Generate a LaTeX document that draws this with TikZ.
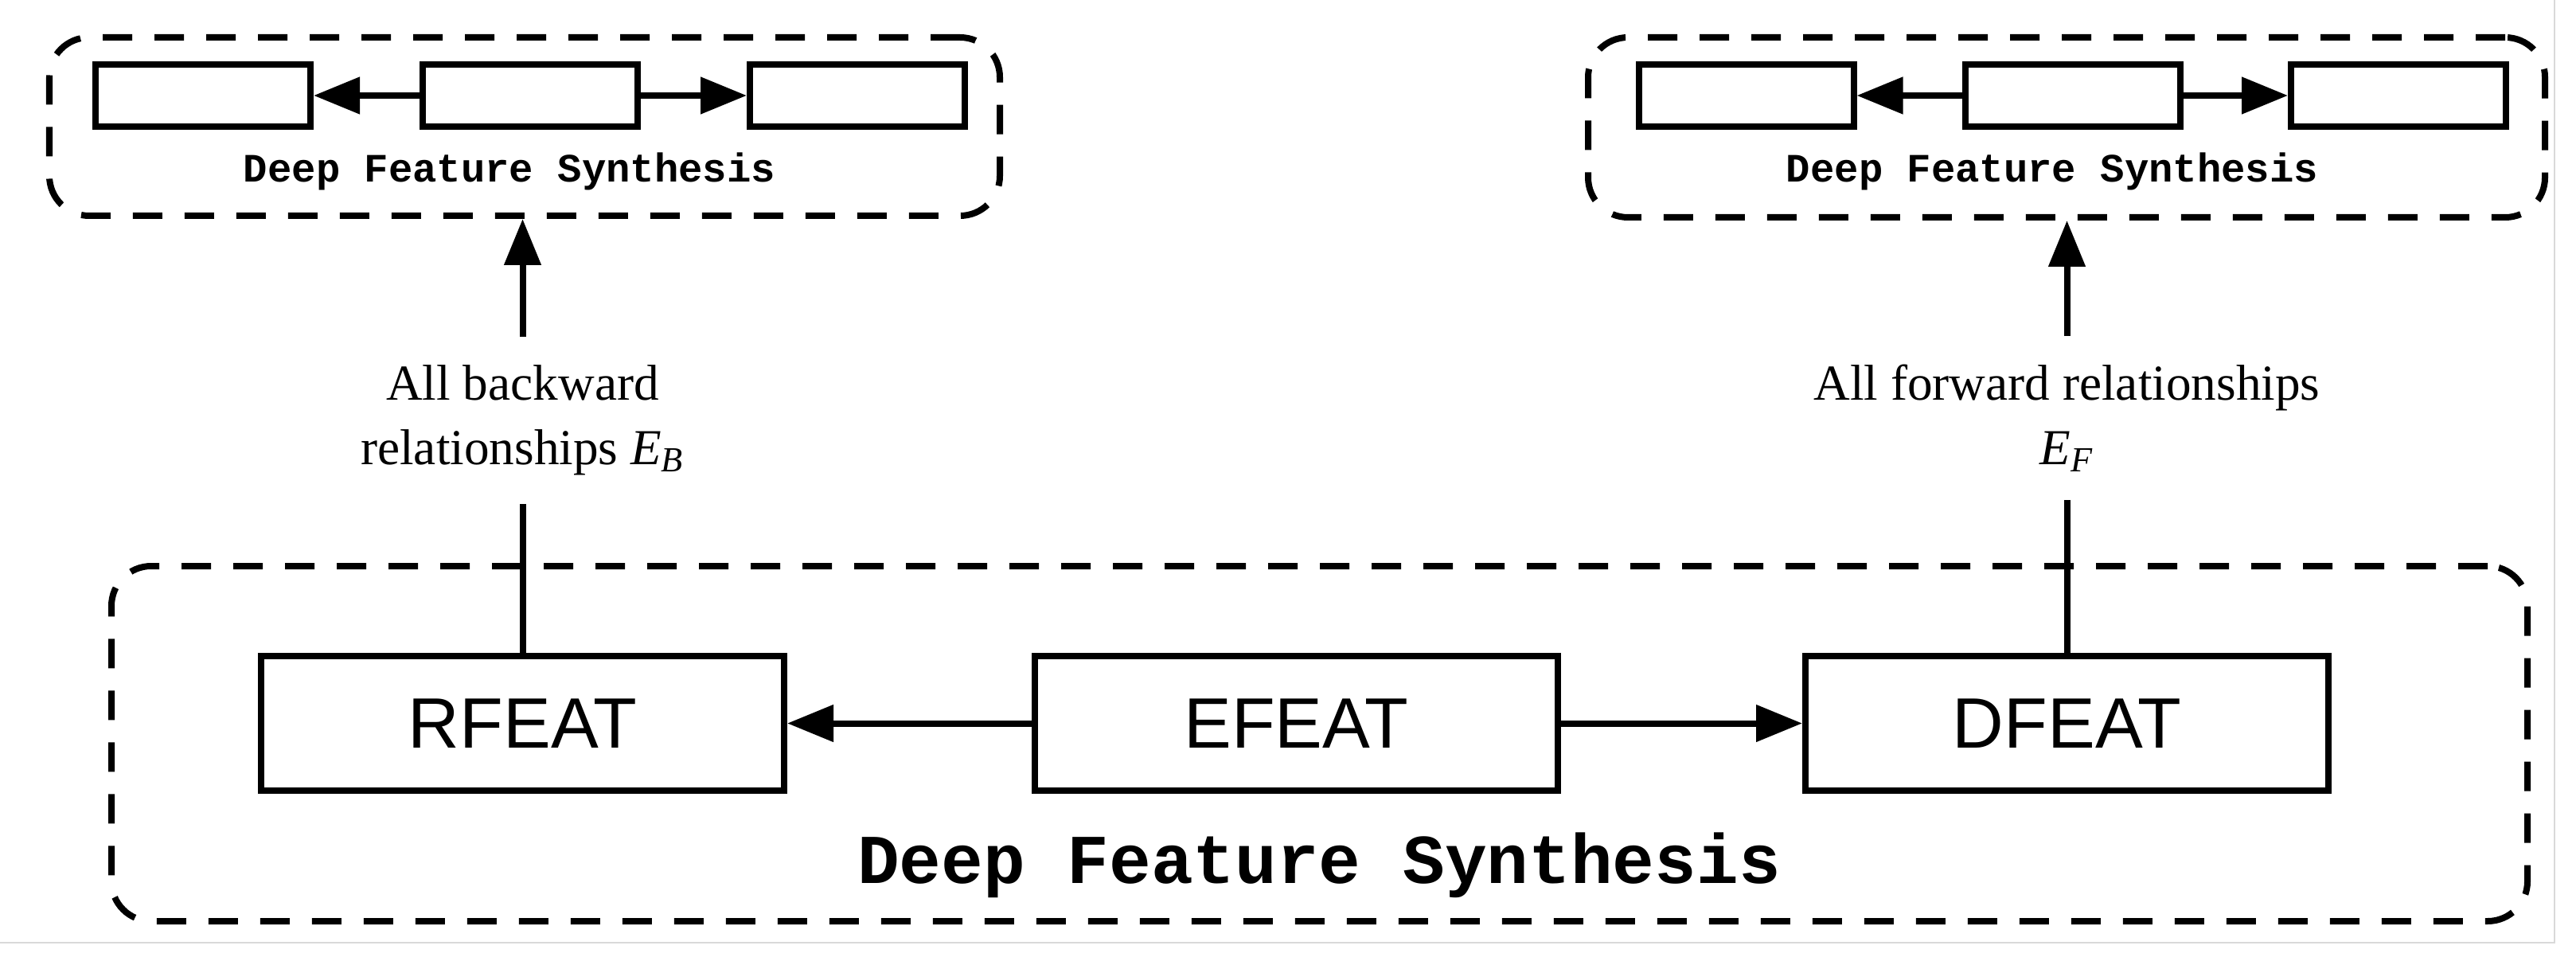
\documentclass[tikz,border=0pt]{standalone}
\usepackage{amsmath}
\usepackage{fontspec}
\setmainfont{Liberation Serif}
\setsansfont{Liberation Sans}
\setmonofont{Liberation Mono}
\usetikzlibrary{arrows.meta}

\tikzset{
  featbox/.style={draw, line width=0.08cm, minimum width=6.57cm, minimum height=1.69cm,
    font=\sffamily\fontsize{25.5}{30}\selectfont},
  minibox/.style={draw, line width=0.08cm, minimum width=2.70cm, minimum height=0.78cm},
  dfsbox/.style={draw, line width=0.08cm, dash pattern=on 0.37cm off 0.28cm, rounded corners=0.5cm},
  dfstitle/.style={anchor=base, font=\ttfamily\bfseries\fontsize{25}{30}\selectfont},
  minititle/.style={anchor=base, font=\ttfamily\bfseries\fontsize{14.4}{17}\selectfont},
  arr/.style={line width=0.08cm, -{Triangle[length=0.58cm,width=0.45cm]}},
  link/.style={line width=0.08cm},
  rel/.style={align=center, inner xsep=0pt, inner ysep=0.35cm, font=\fontsize{18}{23}\selectfont},
}

\begin{document}
\begin{tikzpicture}
    \useasboundingbox (0,0) rectangle (32.36,12.06);
    \draw[gray!30, line width=0.02cm] (0,0.22) -- (32.09,0.22) -- (32.09,12.06);

    % bottom: the three feature kinds
    \node[dfsbox, minimum width=30.35cm, minimum height=4.46cm] (dfs) at (16.575,2.72) {};
    \node[featbox] (rfeat) at (6.565,2.975) {RFEAT};
    \node[featbox] (efeat) at (16.285,2.975) {EFEAT};
    \node[featbox] (dfeat) at (25.965,2.975) {DFEAT};
    \node[dfstitle] (dfsname) at (16.57,0.97) {Deep Feature Synthesis};
    \draw[arr] (efeat) -- (rfeat);
    \draw[arr] (efeat) -- (dfeat);

    % top left, backward
    \node[dfsbox, minimum width=11.94cm, minimum height=2.24cm] (dfsB) at (6.59,10.47) {};
    \node[minibox] (b1) at (2.55,10.86) {};
    \node[minibox] (b2) at (6.655,10.86) {};
    \node[minibox] (b3) at (10.77,10.86) {};
    \draw[arr] (b2) -- (b1);
    \draw[arr] (b2) -- (b3);
    \node[minititle] (dfsBname) at (6.40,9.77) {Deep Feature Synthesis};

    % top right, forward
    \node[dfsbox, minimum width=12.02cm, minimum height=2.26cm] (dfsF) at (25.96,10.46) {};
    \node[minibox] (f1) at (21.935,10.86) {};
    \node[minibox] (f2) at (26.035,10.86) {};
    \node[minibox] (f3) at (30.13,10.86) {};
    \draw[arr] (f2) -- (f1);
    \draw[arr] (f2) -- (f3);
    \node[minititle] (dfsFname) at (25.78,9.77) {Deep Feature Synthesis};

    % relationship labels
    \node[rel] (relB) at (6.565,6.78) {All backward\\relationships $\textit{E}_{\textit{B}}$};
    \node[rel] (relF) at (25.965,6.81) {All forward relationships\\$\textit{E}_{\textit{F}}$};
    \draw[link] (rfeat) -- (relB);
    \draw[arr] (relB) -- (relB |- dfsB.south);
    \draw[link] (dfeat) -- (relF);
    \draw[arr] (relF) -- (relF |- dfsF.south);
\end{tikzpicture}
\end{document}
